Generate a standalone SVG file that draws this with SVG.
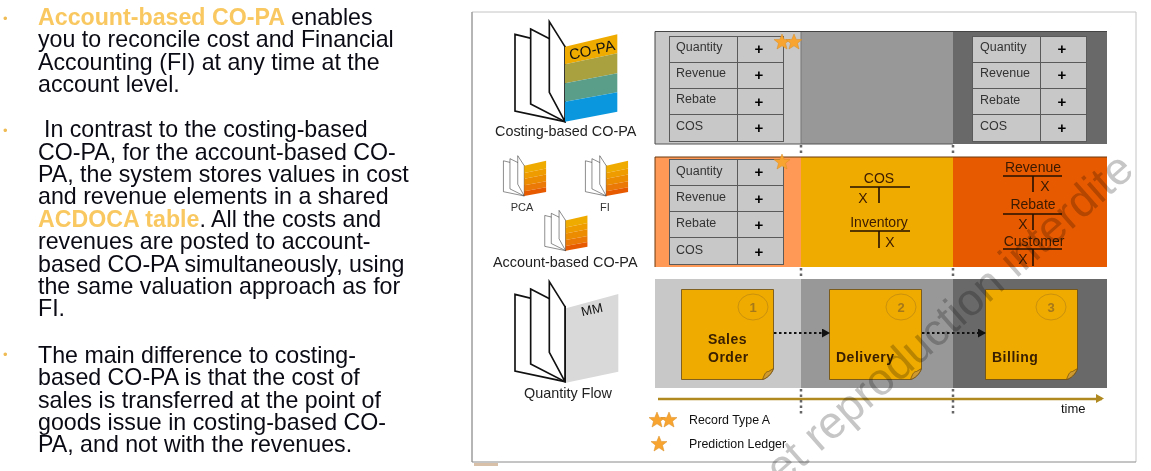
<svg xmlns="http://www.w3.org/2000/svg" width="1151" height="471" viewBox="0 0 1151 471">
<style>
text{font-family:"Liberation Sans",Arial,sans-serif;fill:#111}
.body{font-size:23.2px;fill:#0a0a14}
.hl{font-weight:bold;fill:#f9c860}
.bul{font-size:13px;fill:#eebb55}
.tb{fill:#c8c8c8;stroke:#5a5a5a;stroke-width:1}
.tl{stroke:#5a5a5a;stroke-width:1}
.cell{font-size:12.5px;fill:#333}
.plus{font-size:15px;font-weight:bold;fill:#000;text-anchor:middle}
.lab{font-size:14.4px;fill:#222}
.sm{font-size:11px;fill:#333;text-anchor:middle}
.acc{font-size:14px;fill:#3a1a00;text-anchor:middle}
.acl{stroke:#241000;stroke-width:1.6;fill:none}
.note{fill:#efab00;stroke:#6a4a10;stroke-width:.8}
.curl{fill:#cf9a30;stroke:#6a4a10;stroke-width:.7}
.nt{font-size:14px;font-weight:bold;fill:#3a2000;letter-spacing:.5px}
.num{font-size:13px;font-weight:bold;fill:#a5781a;text-anchor:middle}
.oval{fill:none;stroke:#c08a10;stroke-width:.8}
.star{fill:#f7a530;stroke:#d98a20;stroke-width:.5}
.dash{stroke:#666;stroke-width:2.5;stroke-dasharray:2.5 3;fill:none}
.flow{stroke:#111;stroke-width:2.2;stroke-dasharray:2.5 2.5;fill:none}
.pg{fill:#fff;stroke:#111;stroke-linejoin:miter}
#watermark{fill:#c6c6c6;mix-blend-mode:multiply}
</style>
<defs>
<marker id="ah" markerUnits="userSpaceOnUse" markerWidth="8" markerHeight="9" refX="7" refY="4.5" orient="auto"><path d="M0 0L8 4.5L0 9z" fill="#111"/></marker>
<g id="pages">
<path class="pg" d="M135 88L285 125V350L135 318Z"/>
<path class="pg" d="M182 72L285 125V350L182 297Z"/>
<path class="pg" d="M238 50L285 125V350L238 262Z"/>
</g>
<g id="sticky">
<path class="note" d="M0 0H92V79C90 85 85 89 81 90H0Z"/>
<path class="curl" d="M81 90C83 85 84 82 87 82L92 79C90 85 85 89 81 90Z"/>
</g>
<polygon id="s" points="0,-8 2.2,-2.6 8,-2.4 3.5,1.2 5,7 0,3.8 -5,7 -3.5,1.2 -8,-2.4 -2.2,-2.6"/>
<g id="smallbook">
<use href="#pages" stroke-width="3.5"/>
<path d="M285 125L442 88V145L285 178Z" fill="#efab00"/>
<path d="M285 178L442 145V190L285 222Z" fill="#ef9c00"/>
<path d="M285 222L442 190V240L285 270Z" fill="#ec8c00"/>
<path d="M285 270L442 240V285L285 315Z" fill="#ea7a05"/>
<path d="M285 315L442 285V320L285 350Z" fill="#e85a00"/>
</g>
<g id="table">
<rect class="tb" x="0" y="0" width="114" height="105"/>
<path class="tl" d="M68 0V105M0 26H114M0 52H114M0 78H114"/>
</g>
</defs>
<rect width="1151" height="471" fill="#fff"/>

<g id="description">
<text class="bul" x="3" y="23">•</text>
<text class="body" x="38" y="25"><tspan class="hl">Account-based CO-PA</tspan> enables</text>
<text class="body" x="38" y="47">you to reconcile cost and Financial</text>
<text class="body" x="38" y="70">Accounting (FI) at any time at the</text>
<text class="body" x="38" y="92">account level.</text>
<text class="bul" x="3" y="135">•</text>
<text class="body" x="44" y="137">In contrast to the costing-based</text>
<text class="body" x="38" y="159.500">CO-PA, for the account-based CO-</text>
<text class="body" x="38" y="182">PA, the system stores values in cost</text>
<text class="body" x="38" y="204">and revenue elements in a shared</text>
<text class="body" x="38" y="227"><tspan class="hl">ACDOCA table</tspan>. All the costs and</text>
<text class="body" x="38" y="249">revenues are posted to account-</text>
<text class="body" x="38" y="272">based CO-PA simultaneously, using</text>
<text class="body" x="38" y="294">the same valuation approach as for</text>
<text class="body" x="38" y="316">FI.</text>
<text class="bul" x="3" y="359">•</text>
<text class="body" x="38" y="363">The main difference to costing-</text>
<text class="body" x="38" y="385">based CO-PA is that the cost of</text>
<text class="body" x="38" y="408">sales is transferred at the point of</text>
<text class="body" x="38" y="430">goods issue in costing-based CO-</text>
<text class="body" x="38" y="452">PA, and not with the revenues.</text>
</g>

<g id="frame">
<path d="M472 462V12H1136V462" fill="#fff" stroke="#c4c4c4" stroke-width="1"/>
<path d="M472 12V462H1136" fill="none" stroke="#8a8a8a" stroke-width="1"/>
<rect x="474" y="463" width="24" height="3" fill="#d8c0a8"/>
</g>

<g id="panels">
<rect x="655" y="31.500" width="146" height="112.500" fill="#c8c8c8"/>
<rect x="801" y="31.500" width="152" height="112.500" fill="#989898"/>
<rect x="953" y="31.500" width="154" height="112.500" fill="#696969"/>
<path d="M655 144V31.500H1107" fill="none" stroke="#444" stroke-width="1"/>
<path d="M655 144H953" fill="none" stroke="#555" stroke-width="1"/>
<path d="M801 32V144" stroke="#777" stroke-width="1"/>
<rect x="655" y="157" width="146" height="110" fill="#ff9955"/>
<rect x="801" y="157" width="152" height="110" fill="#efab00"/>
<rect x="953" y="157" width="154" height="110" fill="#e85a00"/>
<path d="M655 267V157H1107" fill="none" stroke="#6a3a10" stroke-width="1"/>
<rect x="655" y="279" width="146" height="109" fill="#c8c8c8"/>
<rect x="801" y="279" width="152" height="109" fill="#989898"/>
<rect x="953" y="279" width="154" height="109" fill="#696969"/>
</g>

<g id="costing-book">
<g transform="translate(470,5) scale(.3333)">
<use href="#pages" stroke-width="5"/>
<path d="M285 125L442 88V145L285 178Z" fill="#efab00"/>
<path d="M285 178L442 145V205L285 235Z" fill="#a9a040"/>
<path d="M285 235L442 205V262L285 290Z" fill="#5a9e8a"/>
<path d="M285 290L442 262V320L285 350Z" fill="#0a97dd"/>
</g>
<text x="592" y="55" font-size="15" text-anchor="middle" fill="#2a1a00" transform="rotate(-13 592 50)">CO-PA</text>
<text class="lab" x="495" y="136">Costing-based CO-PA</text>
</g>

<g id="pca-book"><g transform="translate(470,5) scale(.3333) translate(44,432) scale(.417,.403)"><use href="#smallbook"/></g><text class="sm" x="522" y="211">PCA</text></g>
<g id="fi-book"><g transform="translate(470,5) scale(.3333) translate(290,432) scale(.417,.403)"><use href="#smallbook"/></g><text class="sm" x="605" y="211">FI</text></g>
<g id="account-book"><g transform="translate(470,5) scale(.3333) translate(168,596) scale(.417,.403)"><use href="#smallbook"/></g><text class="lab" x="493" y="267">Account-based CO-PA</text></g>

<g id="quantity-book">
<g transform="translate(470,270) scale(.3333) translate(0,-15)">
<use href="#pages" stroke-width="5"/>
<path d="M288 130L445 87V320L288 353Z" fill="#d9d9d9"/>
</g>
<text x="592" y="314" font-size="13" text-anchor="middle" fill="#333" transform="rotate(-13 592 310)">MM</text>
<text class="lab" x="524" y="398">Quantity Flow</text>
</g>

<g id="table-costing">
<use href="#table" x="669.500" y="36.500"/>
<text class="cell" x="676" y="51">Quantity</text><text class="plus" x="759" y="54">+</text>
<text class="cell" x="676" y="77">Revenue</text><text class="plus" x="759" y="80">+</text>
<text class="cell" x="676" y="103">Rebate</text><text class="plus" x="759" y="107">+</text>
<text class="cell" x="676" y="130">COS</text><text class="plus" x="759" y="133">+</text>
<use class="star" href="#s" x="782" y="42"/><use class="star" href="#s" x="794" y="42"/>
</g>
<g id="table-billing">
<use href="#table" x="972.500" y="36.500"/>
<text class="cell" x="980" y="51">Quantity</text><text class="plus" x="1062" y="54">+</text>
<text class="cell" x="980" y="77">Revenue</text><text class="plus" x="1062" y="80">+</text>
<text class="cell" x="980" y="104">Rebate</text><text class="plus" x="1062" y="107">+</text>
<text class="cell" x="980" y="130">COS</text><text class="plus" x="1062" y="133">+</text>
</g>
<g id="table-account">
<use href="#table" x="669.500" y="159.500"/>
<text class="cell" x="676" y="175">Quantity</text><text class="plus" x="759" y="177">+</text>
<text class="cell" x="676" y="201">Revenue</text><text class="plus" x="759" y="204">+</text>
<text class="cell" x="676" y="227">Rebate</text><text class="plus" x="759" y="230">+</text>
<text class="cell" x="676" y="254">COS</text><text class="plus" x="759" y="257">+</text>
<use class="star" href="#s" x="782" y="162"/>
</g>

<g id="t-accounts-delivery">
<text class="acc" x="879" y="183">COS</text>
<path class="acl" d="M850 187H910M879 187V203"/><text class="acc" x="863" y="203">X</text>
<text class="acc" x="879" y="227">Inventory</text>
<path class="acl" d="M850 231H910M879 231V248"/><text class="acc" x="890" y="247">X</text>
</g>
<g id="t-accounts-billing">
<text class="acc" x="1033" y="172">Revenue</text>
<path class="acl" d="M1003 176H1062M1033 176V192"/><text class="acc" x="1045" y="191">X</text>
<text class="acc" x="1033" y="209">Rebate</text>
<path class="acl" d="M1003 214H1062M1033 214V230"/><text class="acc" x="1023" y="229">X</text>
<text class="acc" x="1034" y="246">Customer</text>
<path class="acl" d="M1003 249H1062M1033 249V266"/><text class="acc" x="1023" y="264">X</text>
</g>

<g id="step-1">
<use href="#sticky" x="681.500" y="289.500"/>
<ellipse class="oval" cx="753" cy="307" rx="15" ry="13"/><text class="num" x="753" y="312">1</text>
<text class="nt" x="708" y="344">Sales</text><text class="nt" x="708" y="362">Order</text>
</g>
<g id="step-2">
<use href="#sticky" x="829.500" y="289.500"/>
<ellipse class="oval" cx="901" cy="307" rx="15" ry="13"/><text class="num" x="901" y="312">2</text>
<text class="nt" x="836" y="362">Delivery</text>
</g>
<g id="step-3">
<use href="#sticky" x="985.500" y="289.500"/>
<ellipse class="oval" cx="1051" cy="307" rx="15" ry="13"/><text class="num" x="1051" y="312">3</text>
<text class="nt" x="992" y="362">Billing</text>
</g>

<g id="connectors">
<path class="flow" d="M774 333H829" marker-end="url(#ah)"/>
<path class="flow" d="M922 333H985" marker-end="url(#ah)"/>
<path d="M658 399H1102" stroke="#b08a20" stroke-width="2.500" fill="none"/>
<path d="M1096 394L1104 398.500L1096 403Z" fill="#b08a20"/>
<path class="dash" d="M801 145V156M801 268V278M801 389V416"/>
<path class="dash" d="M953 145V156M953 268V278M953 389V416"/>
</g>
<text id="time-label" x="1061" y="413" font-size="13" fill="#222">time</text>

<g id="legend">
<use class="star" href="#s" x="657" y="420"/><use class="star" href="#s" x="669" y="420"/>
<text x="689" y="424" font-size="12.400" fill="#333">Record Type A</text>
<use class="star" href="#s" x="659" y="444"/>
<text x="689" y="448" font-size="12.400" fill="#333">Prediction Ledger</text>
</g>

<text id="watermark" x="782" y="486" font-size="45" transform="rotate(-41.500 782 486)">et reproduction interdite</text>
</svg>
